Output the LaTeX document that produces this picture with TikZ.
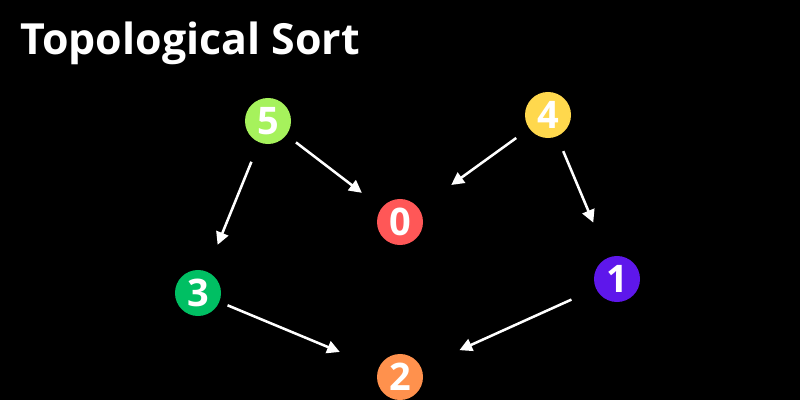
\documentclass[tikz,border=0pt]{standalone}
\usepackage{fontspec}
\setmainfont{Open Sans}
\usetikzlibrary{arrows.meta,positioning}

\definecolor{cfive}{HTML}{A6F25C}
\definecolor{cfour}{HTML}{FFD84D}
\definecolor{czero}{HTML}{FF5757}
\definecolor{cone}{HTML}{5E17EB}
\definecolor{cthree}{HTML}{00BF63}
\definecolor{ctwo}{HTML}{FF914D}

\tikzset{
  vert/.style={circle,minimum size=1.15cm,inner sep=0pt,text=white,
    font=\fontsize{27}{27}\selectfont\bfseries},
  edge/.style={draw=white,line width=1.8pt,-{Triangle[length=9pt,width=9pt]}}
}

\begin{document}
\begin{tikzpicture}[x=0.025cm,y=-0.025cm]

  \fill[black] (0,0) rectangle (800,400);
  \useasboundingbox (0,0) rectangle (800,400);

  \node[anchor=west,text=white,font=\fontsize{30.5}{30.5}\selectfont\bfseries,inner sep=0pt]
    (title) at (20,43) {Topological Sort};

  % vertices
  \node[vert,fill=cfive]  (n5) at (268,121) {5};
  \node[vert,fill=cfour]  (n4) at (548,115) {4};
  \node[vert,fill=czero]  (n0) at (400,222) {0};
  \node[vert,fill=cone]   (n1) at (617,279) {1};
  \node[vert,fill=cthree] (n3) at (198,293) {3};
  \node[vert,fill=ctwo]   (n2) at (400,377) {2};

  % edges
  \draw[edge,shorten <=0.88cm,shorten >=1.2cm] (n5.center) -- (n0.center);
  \draw[edge,shorten <=1.1cm,shorten >=1.3cm] (n5.center) -- (n3.center);
  \draw[edge,shorten <=0.98cm,shorten >=1.58cm] (n4.center) -- (n0.center);
  \draw[edge,shorten <=0.98cm,shorten >=1.53cm] (n4.center) -- (n1.center);
  \draw[edge,shorten <=0.8cm,shorten >=1.63cm] (n3.center) -- (n2.center);
  \draw[edge,shorten <=1.25cm,shorten >=1.63cm] (n1.center) -- (n2.center);

\end{tikzpicture}
\end{document}
